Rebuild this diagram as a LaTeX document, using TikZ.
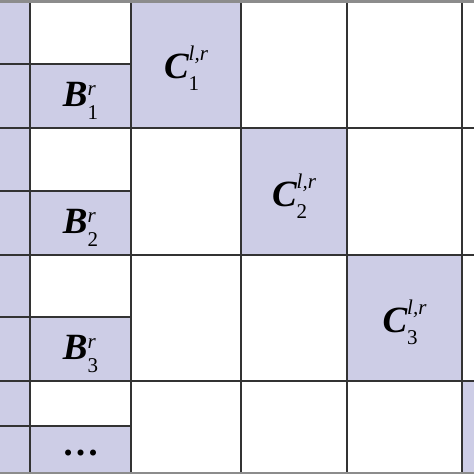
\documentclass[tikz,border=0pt]{standalone}
\usepackage{fontspec}
\setmainfont{Liberation Serif}
\definecolor{blocfond}{RGB}{205,205,230}
% lettre grasse, exposant et indice superposes
\newcommand{\bloc}[5]{{\bfseries\itshape #1}\ooalign{\raisebox{#4}{\fontsize{21}{21}\selectfont\itshape #2}\hfil\cr\raisebox{-#5}{\fontsize{21}{21}\selectfont #3}\hfil\cr}}

\begin{document}
\begin{tikzpicture}[x=1pt,y=-1pt,
		trait/.style={color=black!80,line width=1.5pt},
		lettre/.style={anchor=base,inner sep=0pt,font=\fontsize{37}{44}\selectfont}]
		\useasboundingbox (0,0) rectangle (474,474);
		% fonds
		\fill[color=blocfond] (0,0) rectangle (30,474);
		\foreach \y in {64,191,317} {
			\fill[color=blocfond] (30,\y) rectangle (131,\y+64);
		}
		\fill[color=blocfond] (30,426) rectangle (131,474);
		\fill[color=blocfond] (131,0) rectangle (241,128);
		\fill[color=blocfond] (241,128) rectangle (347,255);
		\fill[color=blocfond] (347,255) rectangle (462,381);
		\fill[color=blocfond] (462,381) rectangle (474,474);
		% grille
		\foreach \x in {30,131,241,347,462} {
			\draw[trait] (\x,0) -- (\x,474);
		}
		\foreach \y in {128,255,381} {
			\draw[trait] (0,\y) -- (474,\y);
		}
		\foreach \y in {64,191,317,426} {
			\draw[trait] (0,\y) -- (131,\y);
		}
		\fill[color=black!45] (0,0) rectangle (474,2.5);
		\fill[color=black!45] (0,471.5) rectangle (474,474);
		% textes
		\node[lettre] (b1) at (80.5,106) {\bloc{B}{r}{1}{11pt}{13pt}};
		\node[lettre] (b2) at (80.5,233) {\bloc{B}{r}{2}{11pt}{13pt}};
		\node[lettre] (b3) at (80.5,359) {\bloc{B}{r}{3}{11pt}{13pt}};
		\node[lettre] (suite) at (80.5,455) {\bfseries\ldots};
		\node[lettre] (c1) at (186,78) {\bloc{C}{l,r}{1}{18pt}{12pt}};
		\node[lettre] (c2) at (294,206) {\bloc{C}{l,r}{2}{18pt}{12pt}};
		\node[lettre] (c3) at (404.5,332) {\bloc{C}{l,r}{3}{18pt}{12pt}};
	\end{tikzpicture}
\end{document}
